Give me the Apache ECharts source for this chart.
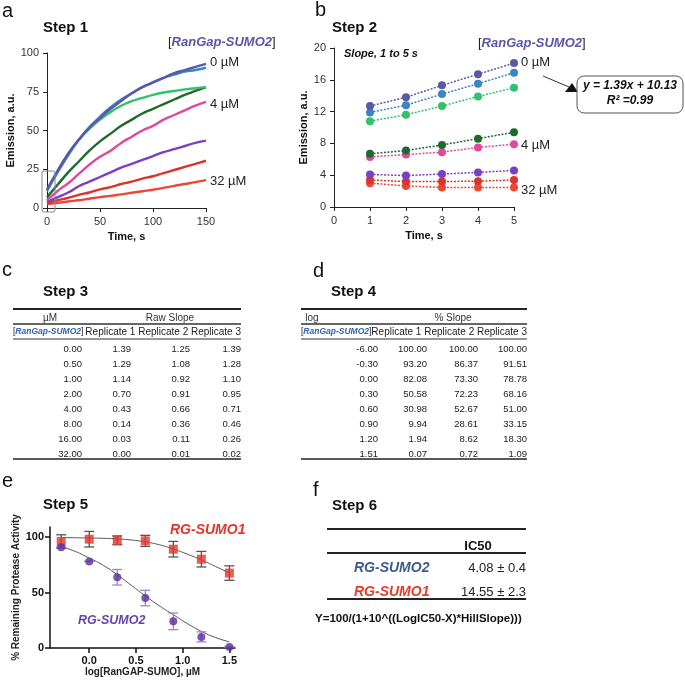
<!DOCTYPE html>
<html>
<head>
<meta charset="utf-8">
<script src="https://cdn.jsdelivr.net/npm/echarts@6/dist/echarts.min.js"></script>
<style>
html, body { margin: 0; padding: 0; background: #fff; }
#main { width: 685px; height: 681px; }
</style>
</head>
<body>
<div id="main"></div>
<script>
// ---- Step 1: emission traces, one per [RanGap-SUMO2] ----
var timeA = [0, 10, 20, 30, 40, 50, 60, 70, 80, 90, 100, 110, 120, 130, 140, 150];
var emit0  = [12, 24, 35, 44, 52, 58, 64, 69, 74, 78, 81, 84, 87, 89, 91, 93];
var emit05 = [11, 23, 34, 44, 52, 59, 65, 70, 74, 78, 81, 84, 86, 88, 89, 90.5];
var emit1  = [11, 24, 35, 44, 51, 57, 62, 66, 69, 71, 73, 74.5, 75.5, 76.5, 77.3, 78];
var emit2  = [7, 15, 23, 30, 37, 43, 48, 53, 57, 61, 64, 67, 70, 73, 75.5, 78];
var emit4  = [5, 11, 16, 22, 28, 33, 37, 42, 46, 50, 53, 57, 60, 63, 66, 68.5];
var emit8  = [4, 7, 10, 14, 17, 20, 23, 26, 28.5, 31, 33.5, 36, 38, 40, 42, 43.5];
var emit16 = [3, 5, 6.5, 8.5, 10, 12, 13.5, 15.5, 17, 19, 20.5, 22.5, 24.5, 26.5, 28.5, 30.5];
var emit32 = [2.5, 3.3, 4.2, 5, 6, 7, 7.8, 8.8, 9.8, 10.8, 11.8, 13, 14.3, 15.5, 16.7, 18];

// ---- Step 2: first 5 s ----
var timeB = [1, 2, 3, 4, 5];
var slope0  = [12.7, 13.8, 15.3, 16.7, 18.1];
var slope05 = [11.9, 12.8, 14.2, 15.5, 16.9];
var slope1  = [10.8, 11.6, 12.7, 13.9, 15.0];
var slope2  = [6.7, 7.1, 7.8, 8.6, 9.4];
var slope4  = [6.3, 6.6, 6.9, 7.5, 7.9];
var slope8  = [4.1, 3.95, 4.15, 4.35, 4.6];
var slope16 = [3.4, 3.2, 3.2, 3.25, 3.4];
var slope32 = [3.0, 2.65, 2.45, 2.45, 2.45];

var concColors = ['#5a58a8', '#3c84c8', '#2fc26b', '#1e6a2c', '#e0489f', '#7a3fc3', '#d9352b', '#ee4636'];
var emitA = [emit0, emit05, emit1, emit2, emit4, emit8, emit16, emit32];
var slopeB = [slope0, slope05, slope1, slope2, slope4, slope8, slope16, slope32];

// ---- Step 3 table: raw slope ----
var concUM = [0, 0.5, 1, 2, 4, 8, 16, 32];
var rawRep1 = [1.39, 1.29, 1.14, 0.70, 0.43, 0.14, 0.03, 0.00];
var rawRep2 = [1.25, 1.08, 0.92, 0.91, 0.66, 0.36, 0.11, 0.01];
var rawRep3 = [1.39, 1.28, 1.10, 0.95, 0.71, 0.46, 0.26, 0.02];

// ---- Step 4 table: % slope ----
var logConcT = [-6.00, -0.30, 0.00, 0.30, 0.60, 0.90, 1.20, 1.51];
var pctRep1 = [100.00, 93.20, 82.08, 50.58, 30.98, 9.94, 1.94, 0.07];
var pctRep2 = [100.00, 86.37, 73.30, 72.23, 52.67, 28.61, 8.62, 0.72];
var pctRep3 = [100.00, 91.51, 78.78, 68.16, 51.00, 33.15, 18.30, 1.09];
var repHeaders = ['Replicate 1', 'Replicate 2', 'Replicate 3'];

// ---- Step 5: dose response ----
var logConc = [-0.3, 0.0, 0.3, 0.6, 0.9, 1.2, 1.5];
var sumo1Mean = [96, 98, 97, 96.5, 89, 80, 67.5];
var sumo1Err  = [6, 7, 4, 5, 7, 7, 6.5];
var sumo2Mean = [90.7, 78, 63.7, 45, 24, 10, 1];
var sumo2Err  = [0, 0, 7, 7, 7.5, 4.5, 0];
var fitX  = [-0.3, -0.15, 0, 0.15, 0.3, 0.45, 0.6, 0.75, 0.9, 1.05, 1.2, 1.35, 1.5];
var fit1  = [99.5, 99.3, 99.1, 98.8, 98.3, 97.3, 95.6, 93, 89.2, 84.5, 79.3, 73.5, 67.5];
var fit2  = [91.5, 87, 81, 74.5, 66, 56.5, 47, 38, 30, 22, 15, 9.5, 5.5];

// ---- Step 6 ----
var ic50Names  = ['RG-SUMO2', 'RG-SUMO1'];
var ic50Colors = ['#3c5a8e', '#e53c2c'];
var ic50Values = ['4.08 ± 0.4', '14.55 ± 2.3'];

var FONT = 'Liberation Sans, Arial, sans-serif';

function pairs(xs, ys) {
    return xs.map(function (x, i) { return [x, ys[i]]; });
}

function axisBase(gi, o) {
    var a = {
        gridIndex: gi,
        type: 'value',
        nameLocation: 'middle',
        nameTextStyle: { fontFamily: FONT, fontWeight: 'bold', fontSize: 11, color: '#111' },
        axisLine: { show: true, onZero: false, lineStyle: { color: '#222', width: 1 } },
        axisTick: { show: true, inside: false, length: 4, lineStyle: { color: '#222' } },
        axisLabel: { fontFamily: FONT, fontSize: 11, color: '#333', margin: 8 },
        splitLine: { show: false }
    };
    for (var k in o) a[k] = o[k];
    return a;
}

// error bars for step 5
function errorBar(color) {
    return function (params, api) {
        var x = api.value(0);
        var top = api.coord([x, api.value(2)]);
        var bot = api.coord([x, api.value(1)]);
        var w = 5;
        var st = { stroke: color, lineWidth: 1.3 };
        return {
            type: 'group',
            children: [
                { type: 'line', shape: { x1: top[0], y1: top[1], x2: bot[0], y2: bot[1] }, style: st },
                { type: 'line', shape: { x1: top[0] - w, y1: top[1], x2: top[0] + w, y2: top[1] }, style: st },
                { type: 'line', shape: { x1: bot[0] - w, y1: bot[1], x2: bot[0] + w, y2: bot[1] }, style: st }
            ]
        };
    };
}

var series = [];
// step 1 curves, lowest concentration drawn last (on top)
for (var i = emitA.length - 1; i >= 0; i--) {
    series.push({
        type: 'line', xAxisIndex: 0, yAxisIndex: 0,
        data: pairs(timeA, emitA[i]),
        smooth: true, showSymbol: false, silent: true,
        lineStyle: { width: 2.4, color: concColors[i] },
        itemStyle: { color: concColors[i] }
    });
}
// step 2 points + dotted lines
for (var j = slopeB.length - 1; j >= 0; j--) {
    series.push({
        type: 'line', xAxisIndex: 1, yAxisIndex: 1,
        data: pairs(timeB, slopeB[j]),
        symbol: 'circle', symbolSize: 8, showSymbol: true, silent: true,
        lineStyle: { width: 1.5, type: [2, 1.5], color: concColors[j] },
        itemStyle: { color: concColors[j] }
    });
}
// step 5
series.push(
    { type: 'line', xAxisIndex: 2, yAxisIndex: 2, data: pairs(fitX, fit1), smooth: true, showSymbol: false,
      silent: true, lineStyle: { width: 1, color: '#555' }, z: 2 },
    { type: 'line', xAxisIndex: 2, yAxisIndex: 2, data: pairs(fitX, fit2), smooth: true, showSymbol: false,
      silent: true, lineStyle: { width: 1, color: '#555' }, z: 2 },
    { type: 'custom', xAxisIndex: 2, yAxisIndex: 2, renderItem: errorBar('#555'), encode: { x: 0, y: [1, 2] },
      data: logConc.map(function (x, k) { return [x, sumo1Mean[k] - sumo1Err[k], sumo1Mean[k] + sumo1Err[k]]; }), z: 3 },
    { type: 'custom', xAxisIndex: 2, yAxisIndex: 2, renderItem: errorBar('#9a86cc'), encode: { x: 0, y: [1, 2] },
      data: logConc.map(function (x, k) { return [x, sumo2Mean[k] - sumo2Err[k], sumo2Mean[k] + sumo2Err[k]]; }), z: 3 },
    { type: 'scatter', xAxisIndex: 2, yAxisIndex: 2, symbol: 'rect', symbolSize: 9, silent: true,
      itemStyle: { color: '#e3342b' }, data: pairs(logConc, sumo1Mean), z: 5 },
    { type: 'scatter', xAxisIndex: 2, yAxisIndex: 2, symbol: 'circle', symbolSize: 8, silent: true,
      itemStyle: { color: '#5a2d9e' }, data: pairs(logConc, sumo2Mean), z: 5 }
);

// ---- graphic helpers ----
var g = [];
function txt(x, y, text, font, fill, align, extra) {
    var el = { type: 'text', x: x, y: y, z: 10, silent: true,
        style: { text: text, font: font, fill: fill || '#111', align: align || 'left', verticalAlign: 'middle' } };
    if (extra) for (var k in extra) el.style[k] = extra[k];
    g.push(el);
}
function hline(x1, x2, y, w, color) {
    g.push({ type: 'line', z: 10, silent: true, shape: { x1: x1, y1: y, x2: x2, y2: y },
        style: { stroke: color || '#222', lineWidth: w } });
}
function rangap(x, y, size, color, weight) {
    g.push({ type: 'text', x: x, y: y, z: 10, silent: true, style: {
        text: '{b|[}{p|RanGap-SUMO2}{b|]}', align: 'left', verticalAlign: 'middle',
        rich: {
            b: { fontFamily: FONT, fontSize: size, fill: '#222' },
            p: { fontFamily: FONT, fontSize: size, fontStyle: 'italic', fontWeight: weight || 'bold', fill: color }
        } } });
}

var letterFont = '20px ' + FONT;
var stepFont = 'bold 15px ' + FONT;
txt(2, 11, 'a', letterFont); txt(315, 10, 'b', letterFont);
txt(2, 270, 'c', letterFont); txt(313, 271, 'd', letterFont);
txt(2, 481, 'e', letterFont); txt(313, 490, 'f', letterFont);
txt(43, 28, 'Step 1', stepFont); txt(332, 28, 'Step 2', stepFont);
txt(43, 292, 'Step 3', stepFont); txt(331, 292, 'Step 4', stepFont);
txt(43, 505, 'Step 5', stepFont); txt(332, 506, 'Step 6', stepFont);

// panel a annotations
rangap(168, 42, 13, '#5b55aa');
txt(210, 62, '0 µM', '13px ' + FONT, '#222');
txt(210, 104, '4 µM', '13px ' + FONT, '#222');
txt(210, 181, '32 µM', '13px ' + FONT, '#222');
g.push({ type: 'rect', z: 10, silent: true, shape: { x: 42, y: 171, width: 13, height: 41, r: 2 },
    style: { fill: 'none', stroke: '#888', lineWidth: 1 } });

// panel b annotations
rangap(478, 43, 13, '#5b55aa');
txt(344, 54, 'Slope, 1 to 5 s', 'italic bold 11px ' + FONT, '#111');
txt(521, 62, '0 µM', '13px ' + FONT, '#222');
txt(521, 145, '4 µM', '13px ' + FONT, '#222');
txt(521, 190, '32 µM', '13px ' + FONT, '#222');
g.push({ type: 'line', z: 10, silent: true, shape: { x1: 543, y1: 76, x2: 569, y2: 87 },
    style: { stroke: '#333', lineWidth: 1 } });
g.push({ type: 'polygon', z: 10, silent: true, shape: { points: [[565, 92], [572, 83], [578, 92]] },
    style: { fill: '#111' } });
g.push({ type: 'rect', z: 10, silent: true, shape: { x: 577, y: 76, width: 106, height: 37, r: 7 },
    style: { fill: '#fff', stroke: '#555', lineWidth: 1 } });
txt(630, 86, 'y = 1.39x + 10.13', 'italic bold 12px ' + FONT, '#111', 'center');
txt(630, 101, 'R² =0.99', 'italic bold 12px ' + FONT, '#111', 'center');

// tables (steps 3 and 4)
var hFont = '10px ' + FONT;
var nFont = '9.5px ' + FONT;
function table(left, right, colRight, headCenters, heads, cols) {
    hline(left, right, 309, 2, '#222');
    hline(left, right, 324, 1.5, '#333');
    hline(left, right, 339, 1, '#333');
    hline(left, right, 459, 1.5, '#222');
    txt(headCenters[0], 318, heads[0], hFont, '#333', 'center');
    txt(headCenters[1], 318, heads[1], hFont, '#333', 'center');
    rangap(left, 332, 8.5, '#2f62b8');
    txt(right, 332, repHeaders.join(' '), hFont, '#222', 'right');
    for (var row = 0; row < cols[0].length; row++) {
        for (var c = 0; c < 4; c++) {
            txt(colRight[c], 349 + 15 * row, cols[c][row].toFixed(2), nFont, '#222', 'right');
        }
    }
}
table(13, 241, [82, 131, 190, 241], [50, 170], ['µM', 'Raw Slope'],
    [concUM, rawRep1, rawRep2, rawRep3]);
table(301, 527, [378, 427, 478, 527], [312, 453], ['log', '% Slope'],
    [logConcT, pctRep1, pctRep2, pctRep3]);

// panel e labels
txt(170, 530, 'RG-SUMO1', 'italic bold 14px ' + FONT, '#e3342b');
txt(78, 621, 'RG-SUMO2', 'italic bold 12.5px ' + FONT, '#6048b2');

// step 6 table
hline(327, 526, 529, 2, '#222');
hline(327, 526, 553, 2, '#222');
hline(327, 526, 599, 2, '#222');
txt(478, 546, 'IC50', 'bold 13px ' + FONT, '#111', 'center');
for (var q = 0; q < ic50Names.length; q++) {
    txt(354, 568 + 24 * q, ic50Names[q], 'italic bold 14px ' + FONT, ic50Colors[q]);
    txt(526, 568 + 24 * q, ic50Values[q], '13px ' + FONT, '#222', 'right');
}
txt(315, 619, 'Y=100/(1+10^((LogIC50-X)*HillSlope)))', 'bold 11.5px ' + FONT, '#111');

var option = {
    animation: false,
    backgroundColor: '#fff',
    grid: [
        { left: 47, top: 53, width: 159, height: 155, outerBoundsMode: 'none', containLabel: false },
        { left: 334, top: 48, width: 180, height: 159, outerBoundsMode: 'none', containLabel: false },
        { left: 50, top: 527, width: 185, height: 121, outerBoundsMode: 'none', containLabel: false }
    ],
    xAxis: [
        axisBase(0, { min: 0, max: 150, interval: 50, name: 'Time, s', nameGap: 23 }),
        axisBase(1, { min: 0, max: 5, interval: 1, name: 'Time, s', nameGap: 23 }),
        axisBase(2, {
            min: -0.42, max: 1.56, name: 'log[RanGAP-SUMO], µM', nameGap: 17,
            nameTextStyle: { fontFamily: FONT, fontWeight: 'bold', fontSize: 10, color: '#222' },
            axisLine: { show: true, onZero: false, lineStyle: { color: '#111', width: 1.5 } },
            axisTick: { show: true, length: 5, customValues: [0, 0.5, 1, 1.5], lineStyle: { color: '#111', width: 1.5 } },
            axisLabel: { fontFamily: FONT, fontSize: 11, fontWeight: 'bold', color: '#111', margin: 7,
                customValues: [0, 0.5, 1, 1.5], formatter: function (v) { return v.toFixed(1); } }
        })
    ],
    yAxis: [
        axisBase(0, { min: 0, max: 100, interval: 25, name: 'Emission, a.u.', nameGap: 30 }),
        axisBase(1, { min: 0, max: 20, interval: 4, name: 'Emission, a.u.', nameGap: 24 }),
        axisBase(2, {
            min: 0, max: 109, name: '% Remaining Protease Activity', nameGap: 23,
            nameTextStyle: { fontFamily: FONT, fontWeight: 'bold', fontSize: 10, color: '#222' },
            axisLine: { show: true, onZero: false, lineStyle: { color: '#111', width: 1.5 } },
            axisTick: { show: true, length: 5, customValues: [0, 50, 100], lineStyle: { color: '#111', width: 1.5 } },
            axisLabel: { fontFamily: FONT, fontSize: 11, fontWeight: 'bold', color: '#111', margin: 6,
                customValues: [0, 50, 100] }
        })
    ],
    series: series,
    graphic: g
};

var chart = echarts.init(document.getElementById('main'));
chart.setOption(option);
window.addEventListener('resize', function () {
    chart.resize();
});
</script>
</body>
</html>
